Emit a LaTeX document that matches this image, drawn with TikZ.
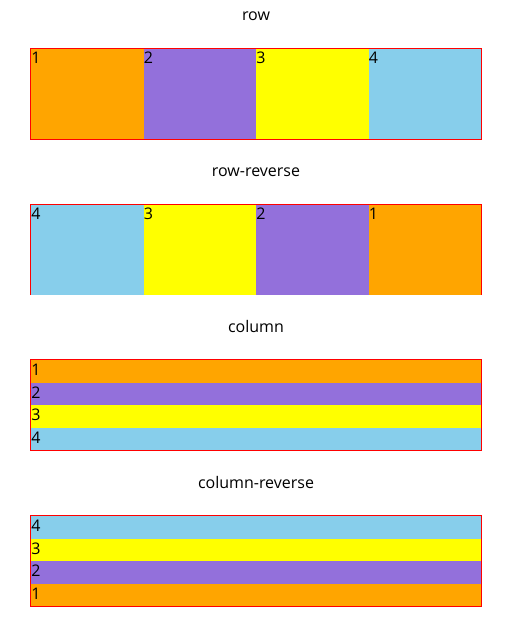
\documentclass[tikz,border=0pt]{standalone}
\usepackage{fontspec}
\setmainfont{Open Sans}
\usetikzlibrary{calc}

\definecolor{cOrange}{HTML}{FFA500}
\definecolor{cPurple}{HTML}{9370DB}
\definecolor{cYellow}{HTML}{FFFF00}
\definecolor{cBlue}{HTML}{87CEEB}
\definecolor{cRed}{HTML}{FF0000}

\tikzset{
  title/.style = {anchor=base, inner sep=0pt, font=\fontsize{12pt}{14pt}\selectfont},
  num/.style = {anchor=base west, inner sep=0pt, font=\fontsize{12pt}{14pt}\selectfont},
  frame/.style = {draw=cRed, line width=0.75pt}
}

\begin{document}
\begin{tikzpicture}[x=0.75pt, y=-0.75pt]
\useasboundingbox (0,0) rectangle (510,638);

% row
\node[title] (tRow) at (256,20.7) {row};
\fill[cOrange] (31,49) rectangle (143.5,139);
\fill[cPurple] (143.5,49) rectangle (256,139);
\fill[cYellow] (256,49) rectangle (368.5,139);
\fill[cBlue] (368.5,49) rectangle (481,139);
\draw[frame] (30.5,48.5) rectangle (481.5,139.5);
\node[num] (a1) at (31,63.5) {1};
\node[num] (a2) at (143.5,63.5) {2};
\node[num] (a3) at (256,63.5) {3};
\node[num] (a4) at (368.5,63.5) {4};

% row-reverse
\node[title] (tRowRev) at (256,176.7) {row-reverse};
\draw[frame] (30.5,295) -- (30.5,204.5) -- (481.5,204.5) -- (481.5,295);
\fill[cBlue] (31,205) rectangle (143.5,295);
\fill[cYellow] (143.5,205) rectangle (256,295);
\fill[cPurple] (256,205) rectangle (368.5,295);
\fill[cOrange] (368.5,205) rectangle (481,295);
\node[num] (b4) at (31,219.5) {4};
\node[num] (b3) at (143.5,219.5) {3};
\node[num] (b2) at (256,219.5) {2};
\node[num] (b1) at (368.5,219.5) {1};

% column
\node[title] (tCol) at (256,332.7) {column};
\fill[cOrange] (31,360) rectangle (481,382.5);
\fill[cPurple] (31,382.5) rectangle (481,405);
\fill[cYellow] (31,405) rectangle (481,427.5);
\fill[cBlue] (31,427.5) rectangle (481,450);
\draw[frame] (30.5,359.5) rectangle (481.5,450.5);
\node[num] (c1) at (31,375.5) {1};
\node[num] (c2) at (31,398) {2};
\node[num] (c3) at (31,420.5) {3};
\node[num] (c4) at (31,443) {4};

% column-reverse
\node[title] (tColRev) at (256,488.7) {column-reverse};
\fill[cBlue] (31,516) rectangle (481,538.5);
\fill[cYellow] (31,538.5) rectangle (481,561);
\fill[cPurple] (31,561) rectangle (481,583.5);
\fill[cOrange] (31,583.5) rectangle (481,606);
\draw[frame] (30.5,515.5) rectangle (481.5,606.5);
\node[num] (d4) at (31,531.5) {4};
\node[num] (d3) at (31,554) {3};
\node[num] (d2) at (31,576.5) {2};
\node[num] (d1) at (31,599) {1};

\end{tikzpicture}
\end{document}
